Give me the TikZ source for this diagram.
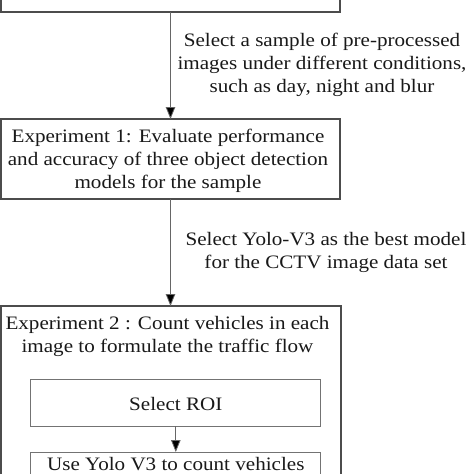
\documentclass[tikz,border=0pt]{standalone}
\usepackage{fontspec}
\setmainfont[FakeStretch=1.11]{Liberation Serif}
\usetikzlibrary{arrows.meta}
\begin{document}
\begin{tikzpicture}[x=1pt,y=-1pt,
  outer/.style={draw=black!70,line width=1.4pt,inner sep=0pt,outer sep=0pt},
  inner/.style={draw=black!55,line width=0.9pt,inner sep=0pt,outer sep=0pt},
  txt/.style={align=center,font=\fontsize{19}{23}\selectfont,text=black!90,inner sep=0pt},
  conn/.style={draw=black!60,line width=0.8pt,-{Triangle[length=12pt,width=9.5pt,fill=black]}}]
\useasboundingbox (0,0) rectangle (474,474);
\clip (0,0) rectangle (474,474);
\fill[white] (0,0) rectangle (474,474);
% top (cropped) box
\node[outer,minimum width=339pt,minimum height=64pt] (top) at (170.5,-20) {};
% experiment 1
\node[outer,minimum width=339pt,minimum height=80pt] (exp1) at (170.5,159) {};
\node[txt] (exp1t) at (168,161) {Experiment 1: Evaluate performance\\and accuracy of three object detection\\models for the sample};
% experiment 2
\node[outer,minimum width=340pt,minimum height=220pt] (exp2) at (171,416) {};
\node[txt] (exp2t) at (167.5,336.5) {Experiment 2 : Count vehicles in each\\image to formulate the traffic flow};
% inner boxes
\node[inner,minimum width=290pt,minimum height=47pt] (roi) at (175.8,402.5) {};
\node[txt] (roit) at (175.8,404) {Select ROI};
\node[inner,minimum width=290pt,minimum height=47pt] (yolo) at (175.8,475.5) {};
\node[txt,anchor=north] (yolot) at (175.8,457.5) {Use Yolo V3 to count vehicles};
% labels
\node[txt] (lab1) at (322,65) {Select a sample of pre-processed\\images under different conditions,\\such as day, night and blur};
\node[txt] (lab2) at (326,252) {Select Yolo-V3 as the best model\\for the CCTV image data set};
% connectors
\draw[conn] (top.south) -- (exp1.north);
\draw[conn] (exp1.south) -- (exp1.south |- exp2.north);
\draw[conn] (roi.south) -- (yolo.north);
\end{tikzpicture}
\end{document}
